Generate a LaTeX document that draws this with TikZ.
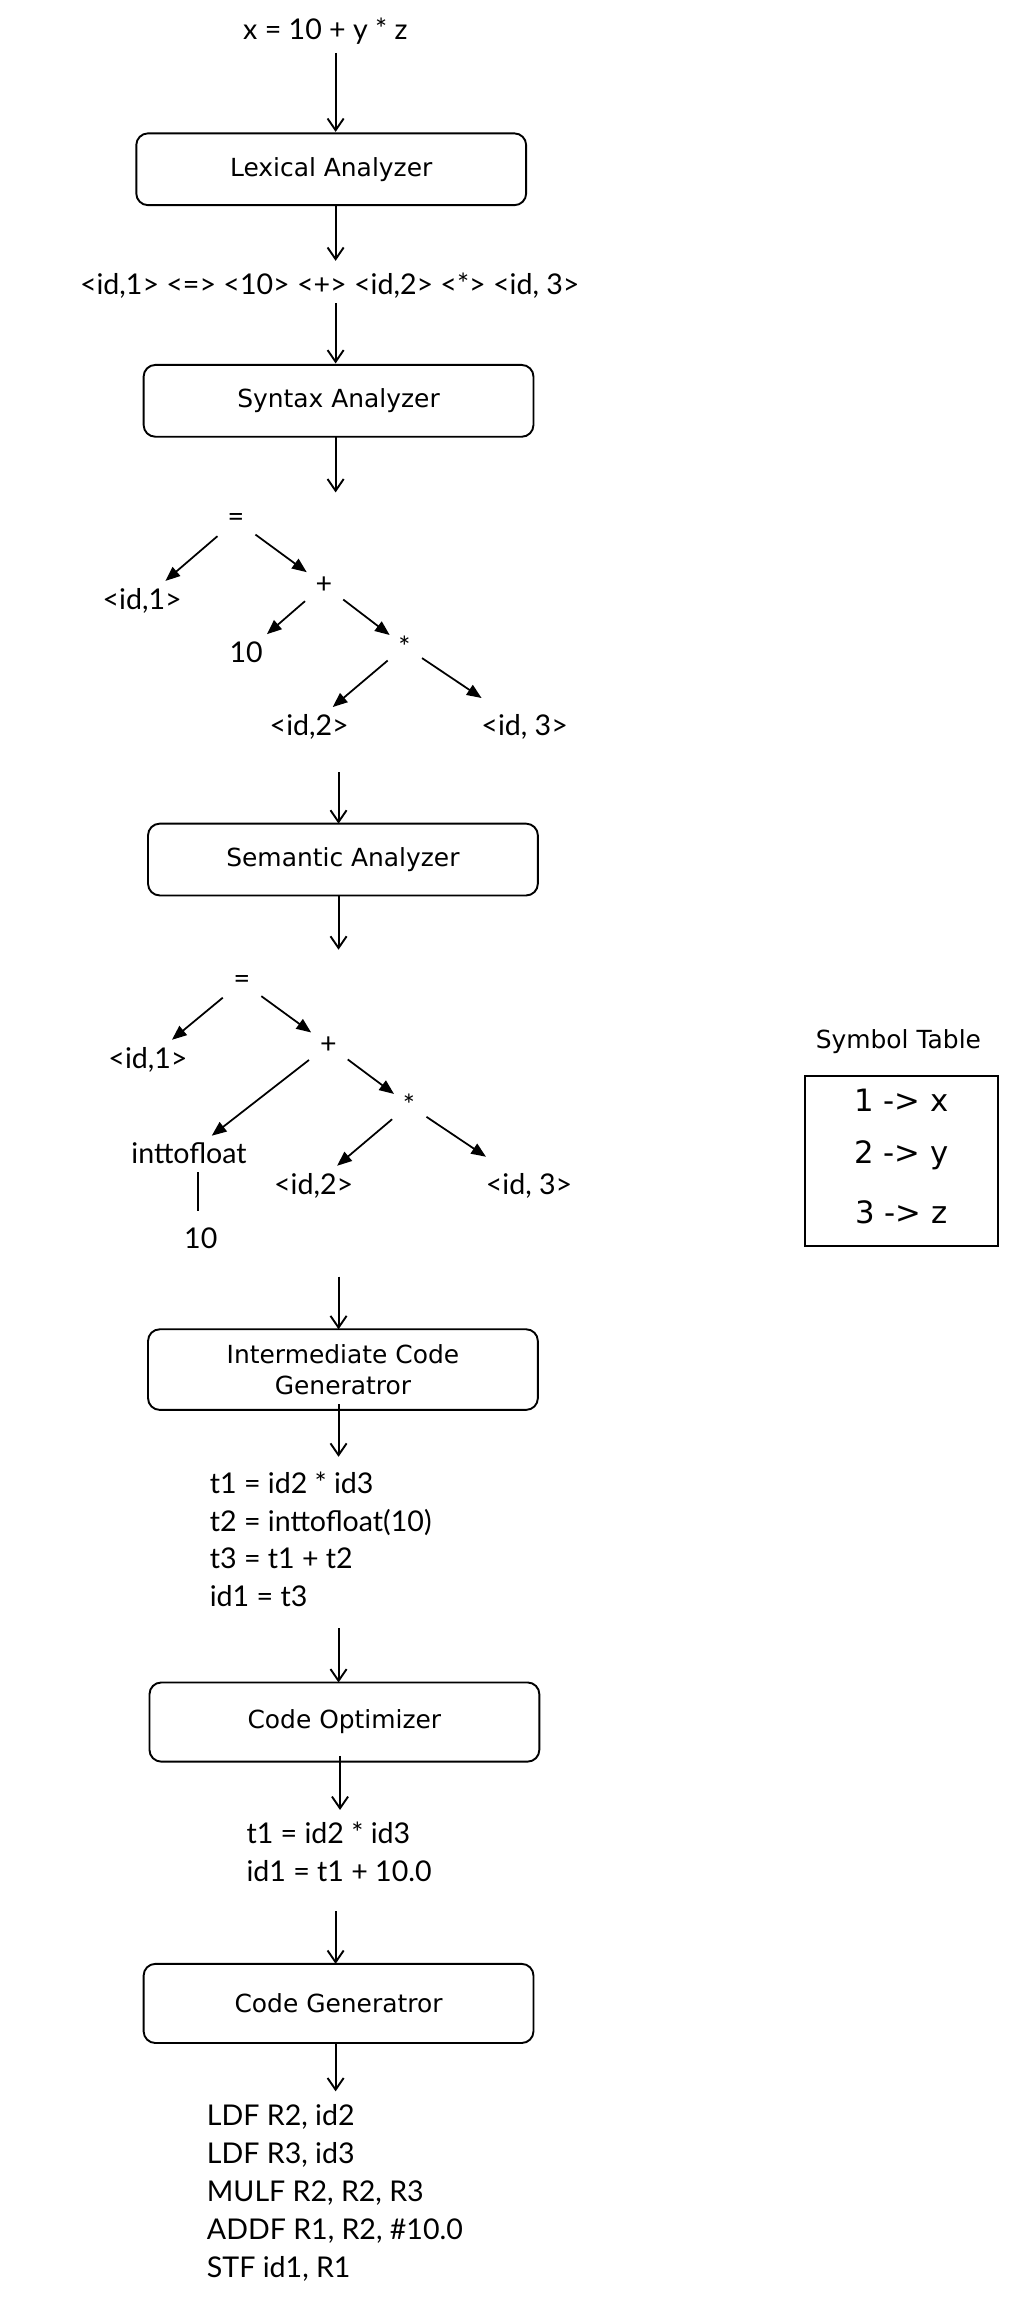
\documentclass[tikz,border=0pt]{standalone}
\usepackage{fontspec}
\setmainfont{Lato}
\newfontfamily\hand{DejaVu Sans}
\usetikzlibrary{arrows.meta}
\begin{document}
\begin{tikzpicture}[x=1pt,y=-1pt,
  txt/.style={font=\fontsize{19.5}{22}\selectfont,inner sep=1pt,yshift=-2pt},
  code/.style={font=\fontsize{19.5}{25.8}\selectfont,align=left,anchor=north west,inner sep=0pt},
  box/.style={draw,line width=1.3pt,rounded corners=8pt,minimum width=266pt,font=\hand\fontsize{17}{21}\selectfont,align=center},
  va/.style={-{Straight Barb[length=8pt,width=11pt]},line width=1.3pt},
  ta/.style={-{Triangle[length=10pt,width=8pt]},line width=1.2pt,shorten >=6pt,shorten <=8pt}]
\useasboundingbox (0,0) rectangle (688,1568);
\node[txt] (in) at (222,19) {x = 10 + y * z};
\node[box,minimum height=49pt] (b1) at (226,115.5) {Lexical Analyzer};
\node[txt] (tok) at (225,193) {<id,1> <=> <10> <+> <id,2> <*> <id, 3>};
\node[box,minimum height=49pt] (b2) at (231,273.5) {Syntax Analyzer};
\draw[va] (229,36) -- (229,90);
\draw[va] (229,140) -- (229,178);
\draw[va] (229,207) -- (229,248);
\draw[va] (229,298) -- (229,336);
% tree 1
\node[txt] (e1) at (161,353) {=};
\node[txt] (i11) at (97,408) {<id,1>};
\node[txt] (p1) at (221,397) {+};
\node[txt] (t1) at (168,443) {10};
\node[txt] (s1) at (276,439) {*};
\node[txt] (i12) at (211,494) {<id,2>};
\node[txt] (i13) at (358,494) {<id, 3>};
\draw[ta] (e1) -- (i11); \draw[ta] (e1) -- (p1);
\draw[ta] (p1) -- (t1); \draw[ta] (p1) -- (s1);
\draw[ta] (s1) -- (i12); \draw[ta,shorten >=18pt] (s1) -- (i13);
\node[box,minimum height=49pt] (b3) at (234,586.5) {Semantic Analyzer};
\draw[va] (231,527) -- (231,562);
\draw[va] (231,611) -- (231,648);
% tree 2
\node[txt] (e2) at (165,668) {=};
\node[txt] (i21) at (101,721) {<id,1>};
\node[txt] (p2) at (224,711) {+};
\node[txt] (f2) at (129,785) {inttofloat};
\node[txt] (s2) at (279,752) {*};
\node[txt] (i22) at (214,807) {<id,2>};
\node[txt] (i23) at (361,807) {<id, 3>};
\node[txt] (t2) at (137,843) {10};
\draw[ta] (e2) -- (i21); \draw[ta] (e2) -- (p2);
\draw[ta] (p2) -- (f2); \draw[ta] (p2) -- (s2);
\draw[ta] (s2) -- (i22); \draw[ta,shorten >=18pt] (s2) -- (i23);
\draw[line width=1pt] (135,800) -- (135,826);
% symbol table
\node[font=\hand\fontsize{17}{20}\selectfont] (st) at (613,711) {Symbol Table};
\node[draw,line width=1.3pt,minimum width=132pt,minimum height=116pt] (tab) at (615,792) {};
\node[font=\hand\fontsize{21}{24}\selectfont] at (615,751) {1 -> x};
\node[font=\hand\fontsize{21}{24}\selectfont] at (615,788) {2 -> y};
\node[font=\hand\fontsize{21}{24}\selectfont] at (615,827) {3 -> z};
% intermediate
\node[box,minimum height=55pt] (b4) at (234,934.5) {Intermediate Code\\Generatror};
\draw[va] (231,871) -- (231,907);
\draw[va] (231,958) -- (231,994);
\node[code] (c1) at (143,1004) {t1 = id2 * id3\\t2 = inttofloat(10)\\t3 = t1 + t2\\id1 = t3};
\node[box,minimum height=54pt] (b5) at (235,1175) {Code Optimizer};
\draw[va] (231,1111) -- (231,1148);
\draw[va] (232,1198) -- (232,1235);
\node[code] (c2) at (168,1243) {t1 = id2 * id3\\id1 = t1 + 10.0};
\node[box,minimum height=54pt] (b6) at (231,1367) {Code Generatror};
\draw[va] (229,1304) -- (229,1340);
\draw[va] (229,1394) -- (229,1427);
\node[code] (c3) at (141,1436) {LDF R2, id2\\LDF R3, id3\\MULF R2, R2, R3\\ADDF R1, R2, \#10.0\\STF id1, R1};
\end{tikzpicture}
\end{document}
